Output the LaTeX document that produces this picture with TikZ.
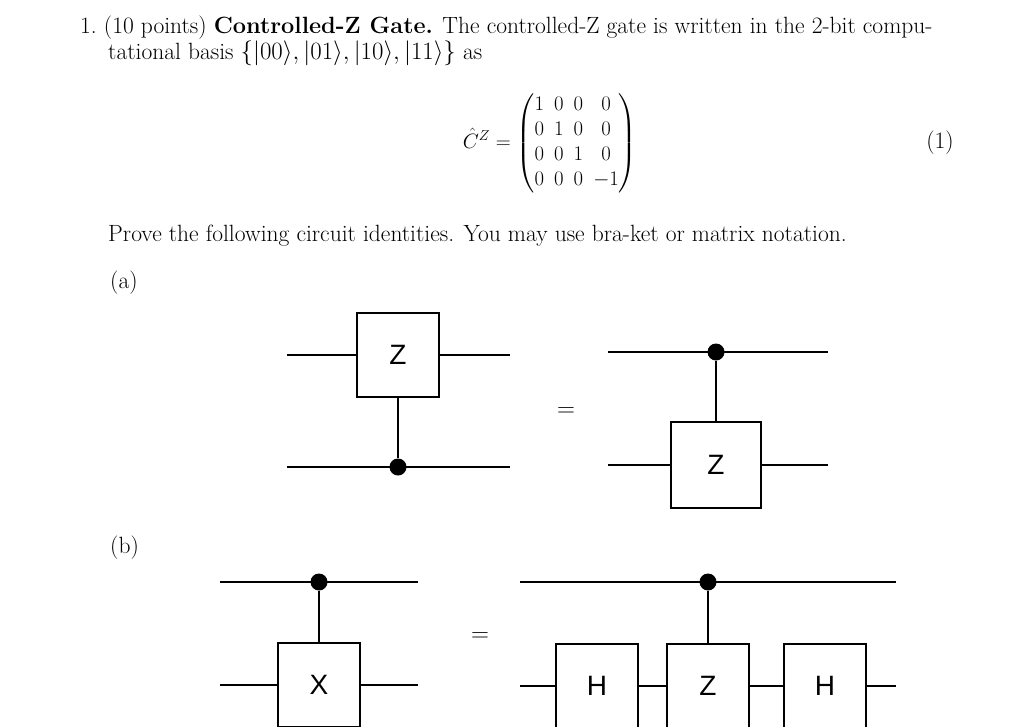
\documentclass[tikz,border=0pt]{standalone}
\usepackage{amsmath}
\usepackage{fontspec}
\newfontfamily\gatefont{Liberation Sans}
\begin{document}
\begin{tikzpicture}[x=1pt,y=-1pt,
  txt/.style={anchor=base west,inner sep=0pt,font=\fontsize{23.5}{28}\selectfont},
  wire/.style={line width=1.6pt},
  gate/.style={draw,line width=1.6pt,minimum width=82pt,minimum height=84pt,inner sep=0pt,font=\gatefont\fontsize{28}{32}\selectfont,fill=white},
  ctrl/.style={circle,fill=black,inner sep=0pt,minimum size=17pt}]
\useasboundingbox (0,0) rectangle (1024,726);
\clip (0,0) rectangle (1024,726);
\node[txt] (l1) at (80,33) {1.\ (10 points) \textbf{Controlled-Z Gate.} The controlled-Z gate is written in the 2-bit compu-};
\node[txt] (l2) at (108,59) {tational basis $\{|00\rangle,|01\rangle,|10\rangle,|11\rangle\}$ as};
\node[inner sep=0pt,font=\fontsize{21}{25}\selectfont] (mat) at (550,143) {$\hat{C}^Z=\begin{pmatrix}1&0&0&0\\0&1&0&0\\0&0&1&0\\0&0&0&-1\end{pmatrix}$};
\node[inner sep=0pt,font=\fontsize{23.5}{28}\selectfont] (eq1) at (940,143) {(1)};
\node[txt] (l3) at (108,241) {Prove the following circuit identities. You may use bra-ket or matrix notation.};
\node[txt] (la) at (110,288) {(a)};
\node[txt] (lb) at (110,553) {(b)};
% (a) left
\node[gate] (za) at (398,355) {Z};
\coordinate (a1) at (287,355); \coordinate (a2) at (510,355);
\coordinate (a3) at (287,467); \coordinate (a4) at (510,467);
\node[ctrl] (ca) at (398,467) {};
\draw[wire] (a1) -- (za.west); \draw[wire] (za.east) -- (a2);
\draw[wire] (a3) -- (a4);
\draw[wire] (za.south) -- (ca);
\node[font=\fontsize{24}{28}\selectfont] (e1) at (566,412) {$=$};
% (a) right
\node[ctrl] (cb) at (716,352) {};
\coordinate (b1) at (608,352); \coordinate (b2) at (828,352);
\node[gate,minimum width=90pt,minimum height=86pt] (zb) at (716,465) {Z};
\coordinate (b3) at (608,465); \coordinate (b4) at (828,465);
\draw[wire] (b1) -- (b2);
\draw[wire] (b3) -- (zb.west); \draw[wire] (zb.east) -- (b4);
\draw[wire] (cb) -- (zb.north);
% (b) left
\coordinate (c1) at (220,582); \coordinate (c2) at (418,582);
\node[ctrl] (cc) at (319,582) {};
\node[gate] (xg) at (319,685) {X};
\coordinate (c3) at (220,685); \coordinate (c4) at (418,685);
\draw[wire] (c1) -- (c2);
\draw[wire] (c3) -- (xg.west); \draw[wire] (xg.east) -- (c4);
\draw[wire] (cc) -- (xg.north);
\node[font=\fontsize{24}{28}\selectfont] (e2) at (480,637) {$=$};
% (b) right
\coordinate (d1) at (520,582); \coordinate (d2) at (896,582);
\node[ctrl] (cd) at (708,582) {};
\node[gate] (h1) at (597,686) {H};
\node[gate] (zd) at (708,686) {Z};
\node[gate] (h2) at (825,686) {H};
\coordinate (d3) at (520,686); \coordinate (d4) at (896,686);
\draw[wire] (d1) -- (d2);
\draw[wire] (d3) -- (h1.west); \draw[wire] (h1.east) -- (zd.west);
\draw[wire] (zd.east) -- (h2.west); \draw[wire] (h2.east) -- (d4);
\draw[wire] (cd) -- (zd.north);
\end{tikzpicture}
\end{document}
